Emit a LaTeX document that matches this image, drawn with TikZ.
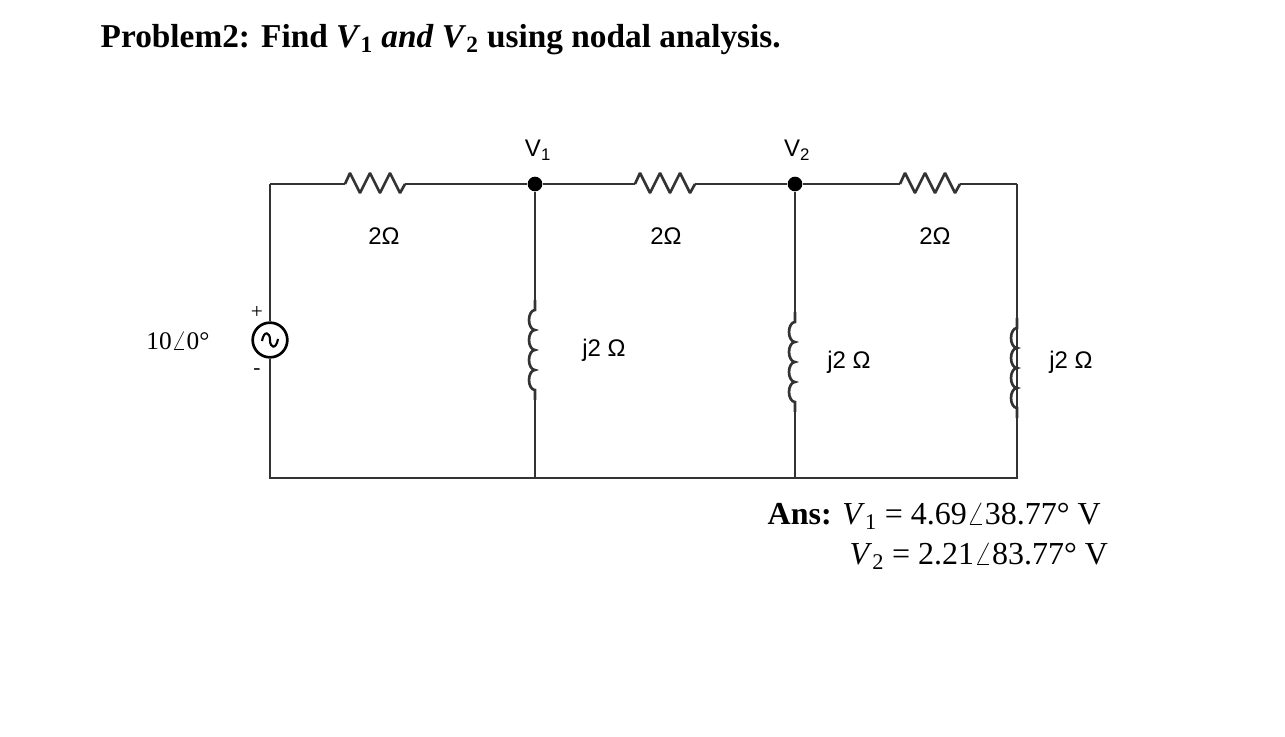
\documentclass[tikz,border=0pt]{standalone}
\usepackage{fontspec}
\setmainfont{Liberation Serif}
\newfontfamily\arial{Liberation Sans}
\begin{document}
\begin{tikzpicture}[x=0.75pt,y=-0.75pt,
  wire/.style={line width=2pt,black!80},
  lbl/.style={font=\arial\fontsize{18}{18}\selectfont},
  dot/.style={circle,fill=black,inner sep=0,minimum size=11pt}]
\useasboundingbox (0,0) rectangle (1285,737);
\node[anchor=west,font=\bfseries\fontsize{25}{25}\selectfont] (title) at (96,40) {Problem2: Find \textit{V}\textsubscript{1} \textit{and} \textit{V}\textsubscript{2} using nodal analysis.};
\coordinate (tl) at (270,184); \coordinate (bl) at (270,478);
\coordinate (tr) at (1017,184); \coordinate (br) at (1017,478);
\node[dot] (n1) at (535,184) {}; \node[dot] (n2) at (795,184) {};
\coordinate (b1) at (535,478); \coordinate (b2) at (795,478);
% source
\node[circle,draw,line width=2pt,minimum size=26pt,inner sep=0] (src) at (270,340) {};
\draw[line width=1.6pt] (262,341) .. controls (264,330) and (270,332) .. (270,340) .. controls (270,348) and (276,350) .. (278,339);
\draw[wire] (src.north) -- (tl);
\draw[wire] (src.south) -- (bl) -- (br) -- (tr);
\node[font=\fontsize{16}{16}\selectfont] (plus) at (257,312) {+};
\node[font=\fontsize{16}{16}\selectfont] (minus) at (257,372) {-};
\node[font=\fontsize{19}{19}\selectfont] (vs) at (178,341) {10$\angle$0°};
% resistors
\foreach \a in {345,635,900}{
  \draw[wire,line join=bevel] (\a,184) -- ++(5,-11) -- ++(10,20) -- ++(10,-20) -- ++(10,20) -- ++(10,-20) -- ++(10,20) -- ++(5,-9);
}
\draw[wire] (tl) -- (345,184); \draw[wire] (405,184) -- (n1) -- (635,184);
\draw[wire] (695,184) -- (n2) -- (900,184); \draw[wire] (960,184) -- (tr);
\node[lbl] (l1) at (384,236) {2Ω};
\node[lbl] (l2) at (666,236) {2Ω};
\node[lbl] (l3) at (935,236) {2Ω};
\node[lbl] (v1) at (538,150) {V\textsubscript{1}};
\node[lbl] (v2) at (797,150) {V\textsubscript{2}};
% inductors
\foreach \x/\y in {535/300,795/312,1017/318}{
  \draw[wire] (\x,\y) -- ++(0,10)
    arc[start angle=270,end angle=90,x radius=6,y radius=10]
    arc[start angle=270,end angle=90,x radius=6,y radius=10]
    arc[start angle=270,end angle=90,x radius=6,y radius=10]
    arc[start angle=270,end angle=90,x radius=6,y radius=10] -- ++(0,10);
}
\draw[wire] (n1) -- (535,300); \draw[wire] (535,400) -- (b1);
\draw[wire] (n2) -- (795,312); \draw[wire] (795,412) -- (b2);
\draw[wire] (tr) -- (1017,318); \draw[wire] (1017,418) -- (br);
\node[lbl] (j1) at (604,350) {j2 Ω};
\node[lbl] (j2) at (849,362) {j2 Ω};
\node[lbl] (j3) at (1071,362) {j2 Ω};
% answer
\node[anchor=west,font=\fontsize{24}{24}\selectfont] (ans) at (763,516) {\textbf{Ans:} \textit{V}\textsubscript{1} = 4.69$\angle$38.77° V};
\node[anchor=west,font=\fontsize{24}{24}\selectfont] (ans2) at (845,556) {\textit{V}\textsubscript{2} = 2.21$\angle$83.77° V};
\end{tikzpicture}
\end{document}
